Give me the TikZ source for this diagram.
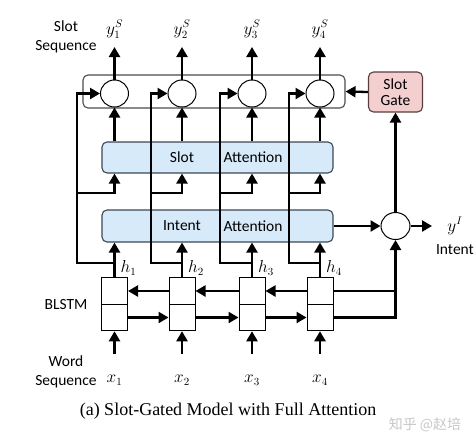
\documentclass[tikz,border=0pt]{standalone}
\usepackage{fontspec}
\setmainfont{Liberation Serif}
\setsansfont{Carlito}
\newfontfamily\cjkfont{Noto Sans CJK SC}
\usetikzlibrary{arrows.meta,shapes.geometric,calc}
\definecolor{attfill}{RGB}{214,234,250}
\definecolor{attdraw}{RGB}{60,70,85}
\definecolor{gatefill}{RGB}{243,207,208}
\definecolor{gatedraw}{RGB}{90,60,60}
\tikzset{
  arr/.style={line width=2.3pt,-{Triangle[length=10pt,width=11pt]}},
  ln/.style={line width=2.3pt},
  lab/.style={font=\sffamily\fontsize{15.5}{18}\selectfont,inner sep=0pt,align=center},
  mlab/.style={font=\fontsize{16}{18}\selectfont,inner sep=0pt},
  attbox/.style={draw=attdraw,fill=attfill,line width=1.1pt,rounded corners=5pt,minimum width=231pt,inner sep=0pt},
  ellnode/.style={draw=black,fill=white,line width=1pt,ellipse,minimum width=28pt,minimum height=27pt,inner sep=0pt},
  cellbox/.style={draw=black,fill=white,line width=1pt,minimum width=26pt,minimum height=26.5pt,inner sep=0pt},
}
\begin{document}
\begin{tikzpicture}[x=1pt,y=-1pt]
\useasboundingbox (0,0) rectangle (474,445);
% outer box
\node[draw=black!70,fill=white,line width=1.1pt,rounded corners=5pt,minimum width=262pt,minimum height=33pt,inner sep=0pt] (outer) at (214,91.5) {};
% attention boxes
\node[attbox,minimum height=31pt] (sattn) at (217.5,157.5) {};
\node[attbox,minimum height=32pt] (iattn) at (217.5,226) {};
\node[lab] (st1) at (182,157.5) {Slot};
\node[lab] (st2) at (253,157.5) {Attention};
\node[lab] (it1) at (182,226) {Intent};
\node[lab] (it2) at (253,226) {Attention};
% slot gate
\node[draw=gatedraw,fill=gatefill,line width=1.1pt,rounded corners=5pt,minimum width=54pt,minimum height=40pt,inner sep=0pt,lab] (gate) at (395.5,92) {Slot\\[-2pt]Gate};
% intent circle
\node[ellnode,minimum width=29pt] (ic) at (395.5,226) {};
% circles, cells
\foreach \i/\c/\s in {1/114.5/77,2/182/151,3/252/220,4/320/289}{
  \node[ellnode] (o\i) at (\c,93.5) {};
  \node[cellbox] (u\i) at (\c,291) {};
  \node[cellbox] (d\i) at (\c,317.5) {};
  \coordinate (t\i) at (\c,47);
  \coordinate (b\i) at (\c,263);
  \coordinate (sk\i) at (\s,263);
  \coordinate (m\i) at (\s,193);
  \coordinate (xs\i) at (\c,354);
  \node[mlab] (ys\i) at (\c,29.5) {$y_{\i}^{S}$};
  \node[mlab] (h\i) at (\c+14,268) {$h_{\i}$};
  \node[mlab] (x\i) at (\c,380) {$x_{\i}$};
}
% labels
\node[lab] (slotseq) at (66,37) {Slot\\[1pt]Sequence};
\node[lab] (blstm) at (66,305) {BLSTM};
\node[lab] (wordseq) at (66,372) {Word\\[1pt]Sequence};
\node[mlab] (yI) at (455,226) {$y^{I}$};
\node[lab] (intent) at (455,250) {Intent};
\coordinate (yIt) at (432,226);
\node[font=\fontsize{18}{20}\selectfont,inner sep=0pt] (cap) at (228,411) {(a) Slot-Gated Model with Full Attention};
\node[font=\cjkfont\fontsize{14}{16}\selectfont,text=black!22,inner sep=0pt] (wm) at (425,425) {知乎 @赵培};
% connectors
\foreach \i in {1,2,3,4}{
  \draw[arr] (o\i.north) -- (t\i);
  \draw[arr] (sattn.north -| o\i) -- (o\i.south);
  \draw[arr] (u\i.north) -- (iattn.south -| u\i);
  \draw[arr] (b\i) -- (sk\i) |- (o\i.west);
  \draw[arr] (m\i) -| (sattn.south -| o\i);
  \draw[arr] (xs\i) -- (d\i.south);
}
\foreach \i/\j in {1/2,2/3,3/4}{
  \draw[arr] (u\j.west) -- (u\i.east);
  \draw[arr] (d\i.east) -- (d\j.west);
}
\draw[ln] (u4.east) -- (u4.east -| ic);
\draw[arr] (d4.east) -| (ic.south);
\draw[arr] (iattn.east) -- (ic.west);
\draw[arr] (ic.east) -- (yIt);
\draw[arr] (ic.north) -- (gate.south);
\draw[arr] (gate.west) -- (outer.east);
\end{tikzpicture}
\end{document}
